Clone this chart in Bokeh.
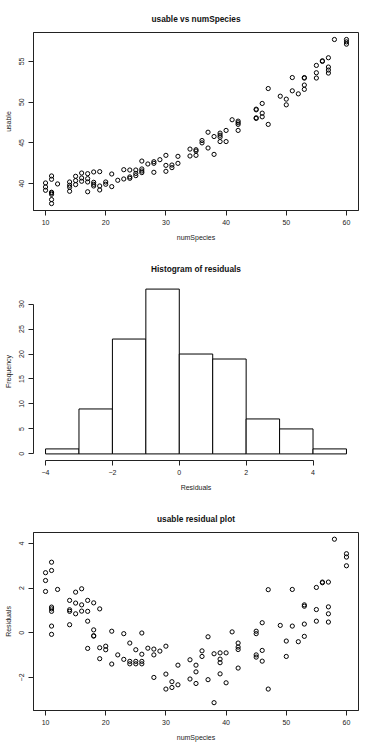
from bokeh.plotting import figure
from bokeh.layouts import column
from bokeh.models import FixedTicker, ColumnDataSource
from bokeh.embed import file_html
from bokeh.resources import INLINE

# ---------------- data ----------------
num_species = [10, 10, 10,
               11, 11, 11, 11, 11, 11, 11,
               12,
               14, 14, 14, 14,
               15, 15, 15,
               16, 16, 16,
               17, 17, 17, 17,
               18, 18, 18, 18,
               19, 19, 19,
               20, 20,
               21, 21,
               22,
               23, 23,
               24, 24, 24,
               25, 25, 25,
               26, 26, 26, 26,
               27,
               28, 28, 28,
               29,
               30, 30, 30,
               31, 31,
               32, 32,
               34, 34,
               35, 35, 35,
               36, 36,
               37, 37,
               38, 38,
               39, 39, 39, 39,
               40, 40,
               41,
               42, 42, 42, 42,
               45, 45, 45, 45,
               46, 46, 46,
               47, 47,
               49,
               50, 50,
               51, 51,
               52,
               53, 53, 53, 53,
               55, 55, 55,
               56, 56,
               57, 57, 57, 57,
               58,
               60, 60, 60]

usable = [40.08, 39.59, 39.18,
          40.94, 40.53, 38.94, 38.85, 38.69, 38.04, 37.55,
          39.96,
          40.20, 39.80, 39.55, 39.06,
          40.90, 40.37, 39.88,
          41.30, 40.69, 40.29,
          41.22, 40.61, 40.20, 39.00,
          41.43, 40.16, 39.92, 39.71,
          41.47, 39.71, 39.22,
          40.20, 39.92,
          41.18, 39.63,
          40.41,
          41.71, 40.57,
          41.67, 40.82, 40.65,
          41.67, 41.25, 40.98,
          42.77, 41.80, 41.55, 41.35,
          42.41,
          42.69, 42.49, 41.39,
          42.94,
          43.47, 42.24, 41.51,
          42.28, 41.96,
          43.35, 42.49,
          44.24, 43.39,
          44.16, 44.00, 43.47,
          45.29, 45.00,
          46.31, 44.37,
          45.78, 43.59,
          46.20, 45.94, 45.70, 45.16,
          46.53, 45.16,
          47.84,
          47.67, 47.47, 47.27, 46.53,
          49.14, 49.06, 48.08, 48.00,
          49.84, 48.65, 48.20,
          51.67, 47.27,
          50.73,
          50.37, 49.67,
          53.02, 51.39,
          51.02,
          53.02, 52.95, 52.10, 51.57,
          54.51, 53.61, 52.96,
          55.08, 55.00,
          55.45, 54.31, 53.94, 53.57,
          57.69,
          57.69, 57.40, 57.12]

residuals = [2.69, 2.34, 1.85,
             3.16, 2.79, 1.15, 1.07, 0.96, 0.30, -0.07,
             1.94,
             1.45, 1.03, 0.96, 0.36,
             1.82, 1.33, 0.85,
             1.97, 1.25, 0.97,
             1.45, 0.96, 0.52, -0.70,
             1.34, 0.13, -0.13, -0.15,
             1.07, -0.67, -1.16,
             -0.60, -0.76,
             0.07, -1.40,
             -0.99,
             -0.04, -1.19,
             -0.46, -1.28, -1.39,
             -0.76, -1.28, -1.39,
             -0.01, -0.96, -1.28, -1.39,
             -0.69,
             -0.73, -0.99, -2.00,
             -0.82,
             -0.60, -1.85, -2.52,
             -2.19, -2.45,
             -1.45, -2.33,
             -1.21, -2.07,
             -1.45, -1.75, -2.27,
             -0.81, -1.06,
             -0.18, -2.10,
             -0.94, -3.13,
             -0.90, -1.18, -1.34, -1.84,
             -0.90, -2.24,
             0.04,
             -0.46, -0.64, -0.75, -1.58,
             0.07, -0.04, -0.99, -1.09,
             0.45, -0.79, -1.27,
             1.93, -2.52,
             0.33,
             -0.37, -1.06,
             1.94, 0.30,
             -0.40,
             1.25, 1.19, 0.39, -0.16,
             2.03, 1.04, 0.52,
             2.27, 2.24,
             2.27, 1.16, 0.85, 0.48,
             4.19,
             3.54, 3.39, 3.00]

hist_left = [-4, -3, -2, -1, 0, 1, 2, 3, 4]
hist_right = [-3, -2, -1, 0, 1, 2, 3, 4, 5]
hist_counts = [1, 9, 23, 33, 20, 19, 7, 5, 1]

x_ticks = [10, 20, 30, 40, 50, 60]
usable_ticks = [40, 45, 50, 55]
freq_ticks = [0, 5, 10, 15, 20, 25, 30]
resid_x_ticks = [-4, -2, 0, 2, 4]
resid_y_ticks = [-2, 0, 2, 4]

FONT = "Liberation Sans"


def base_fig(title, height, x_range, y_range, outline=True):
    p = figure(width=375, height=height, x_range=x_range, y_range=y_range,
               output_backend="svg", toolbar_location=None,
               min_border_left=33, min_border_right=17,
               min_border_top=32, min_border_bottom=height - 210,
               background_fill_color="white", border_fill_color="white")
    p.title.text = title
    p.title.align = "center"
    p.title.text_font = FONT
    p.title.text_font_size = "8.3px"
    p.title.text_font_style = "bold"
    p.title.text_color = "#111111"
    p.title.standoff = 17
    p.grid.visible = False
    if outline:
        p.outline_line_color = "#222222"
        p.outline_line_width = 1
    else:
        p.outline_line_color = None
    for ax in p.axis:
        ax.axis_line_color = "#222222"
        ax.major_tick_line_color = "#222222"
        ax.minor_tick_line_color = None
        ax.major_tick_out = 5
        ax.major_tick_in = 0
        ax.major_label_text_font = FONT
        ax.major_label_text_font_size = "7px"
        ax.major_label_text_color = "#222222"
        ax.axis_label_text_font = FONT
        ax.axis_label_text_font_size = "7px"
        ax.axis_label_text_font_style = "normal"
        ax.axis_label_text_color = "#222222"
        ax.major_label_standoff = 4
    p.xaxis.axis_label_standoff = 6
    p.yaxis.axis_label_standoff = 5
    p.yaxis.major_label_orientation = "vertical"
    return p


# ---- panel 1: scatter ----
src = ColumnDataSource(dict(x=num_species, u=usable, r=residuals))

p1 = base_fig("usable vs numSpecies", 250, (8, 62), (36.7, 58.55))
p1.scatter("x", "u", source=src, size=4.2, fill_color=None,
           line_color="black", line_width=1)
p1.xaxis.ticker = FixedTicker(ticks=x_ticks)
p1.yaxis.ticker = FixedTicker(ticks=usable_ticks)
p1.xaxis.axis_label = "numSpecies"
p1.yaxis.axis_label = "usable"

# ---- panel 2: histogram ----
hsrc = ColumnDataSource(dict(left=hist_left, right=hist_right, top=hist_counts,
                             bottom=[0] * len(hist_counts)))
p2 = base_fig("Histogram of residuals", 250, (-4.36, 5.36), (-1.32, 34.32),
              outline=False)
p2.quad(left="left", right="right", top="top", bottom="bottom", source=hsrc,
        fill_color="white", line_color="black", line_width=1)
p2.xaxis.ticker = FixedTicker(ticks=resid_x_ticks)
p2.xaxis.bounds = (-4, 4)
p2.yaxis.ticker = FixedTicker(ticks=freq_ticks)
p2.yaxis.bounds = (0, 30)
p2.xaxis.axis_label = "Residuals"
p2.yaxis.axis_label = "Frequency"

# ---- panel 3: residual plot ----
p3 = base_fig("usable residual plot", 252, (8, 62), (-3.48, 4.49))
p3.scatter("x", "r", source=src, size=4.2, fill_color=None,
           line_color="black", line_width=1)
p3.xaxis.ticker = FixedTicker(ticks=x_ticks)
p3.yaxis.ticker = FixedTicker(ticks=resid_y_ticks)
p3.xaxis.axis_label = "numSpecies"
p3.yaxis.axis_label = "Residuals"

layout = column(p1, p2, p3, spacing=0)
open("out.html", "w").write(file_html(layout, INLINE))
